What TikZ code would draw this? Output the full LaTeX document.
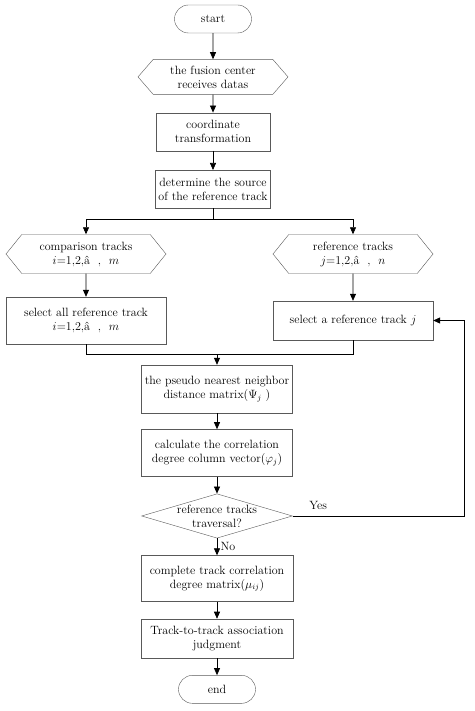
\documentclass[tikz,border=0pt]{standalone}
\usepackage{tikz}
\usetikzlibrary{positioning,arrows.meta,shapes.geometric,shapes.symbols}

\begin{document}
\begin{tikzpicture}[
		x=1pt,y=-1pt,
		node distance=17pt,
		every node/.style={
			align=center,
			font=\fontsize{12}{14}\selectfont
		},
		box/.style={draw=black!65,inner sep=2pt,minimum width=151pt,minimum height=47pt},
		term/.style={draw=black!65,rounded corners=14pt,minimum width=77pt,minimum height=28pt},
		hexa/.style={draw=black!65,shape=signal,signal to=west and east,signal pointer angle=102,
			inner sep=1pt,minimum width=160pt,minimum height=39pt},
		decide/.style={draw=black!65,diamond,aspect=3.4,inner xsep=-3pt,inner ysep=0pt,
			minimum width=150pt,minimum height=44pt},
		flow/.style={-{Triangle[length=7pt,width=6pt]},black,line width=0.7pt},
		wire/.style={black,line width=0.7pt}
		]
		
		\useasboundingbox (0,0) rectangle (474,711);
		
		\node[term] (start) at (213,19) {start};
		
		\node[hexa,minimum width=150pt,minimum height=35pt,signal pointer angle=98,below=26pt of start]
		(feed)
		{the fusion center\\ receives datas};
		
		\node[box,minimum width=114pt,minimum height=38pt,below=18pt of feed]
		(coord)
		{coordinate\\ transformation};
		
		\node[box,minimum width=115pt,minimum height=38pt,below=19pt of coord]
		(source)
		{determine the source\\ of the reference track};
		
		\node[hexa] (cmp) at (86,254)
		{comparison tracks\\ \(i\)=1,2,â\ \ ,\ \ \(m\)};
		
		\node[hexa] (ref) at (353,254)
		{reference tracks\\ \(j\)=1,2,â\ \ ,\ \ \(n\)};
		
		\node[box,minimum width=160pt] (selall) at (86,320.5)
		{select all reference track\\ \(i\)=1,2,â\ \ ,\ \ \(m\)};
		
		\node[box,minimum width=160pt,minimum height=39pt] (selone) at (353,320.5)
		{select a reference track \(j\)};
		
		\node[box,minimum height=48pt] (pseudo) at (217,389)
		{the pseudo nearest neighbor\\ distance matrix(\(\Psi_j\) )};
		
		\node[box,below=16pt of pseudo]
		(degree)
		{calculate the correlation\\ degree column vector(\(\varphi_j\))};
		
		\node[decide,below=of degree]
		(travers)
		{reference tracks\\ traversal?};
		
		\node[box,minimum width=152pt,minimum height=46pt,below=of travers]
		(matrix)
		{complete track correlation\\ degree matrix(\(\mu_{ij}\))};
		
		\node[box,minimum width=152pt,minimum height=39pt,below=of matrix]
		(judge)
		{Track-to-track association\\ judgment};
		
		\node[term,below=of judge]
		(end)
		{end};
		
		\coordinate (split) at (213,219);
		\coordinate (merge) at (217,354);
		\coordinate (back) at (464,513);
		
		\draw[flow] (start)--(feed);
		\draw[flow] (feed)--(coord);
		\draw[flow] (coord)--(source);
		\draw[wire] (source)--(split);
		\draw[flow] (split)-|(cmp);
		\draw[flow] (split)-|(ref);
		\draw[flow] (cmp)--(selall);
		\draw[flow] (ref)--(selone);
		\draw[wire] (selall.south)|-(merge);
		\draw[wire] (selone.south)|-(merge);
		\draw[flow] (merge)--(pseudo);
		\draw[flow] (pseudo)--(degree);
		\draw[flow] (degree)--(travers);
		\draw[flow] (travers)--node[right=0pt,pos=0.45]{No}(matrix);
		\draw[flow] (travers.east)--node[above right=3pt and 13pt,pos=0]{Yes}(travers.east -| back)|-(selone.east);
		\draw[flow] (matrix)--(judge);
		\draw[flow] (judge)--(end);
		
	\end{tikzpicture}
\end{document}
